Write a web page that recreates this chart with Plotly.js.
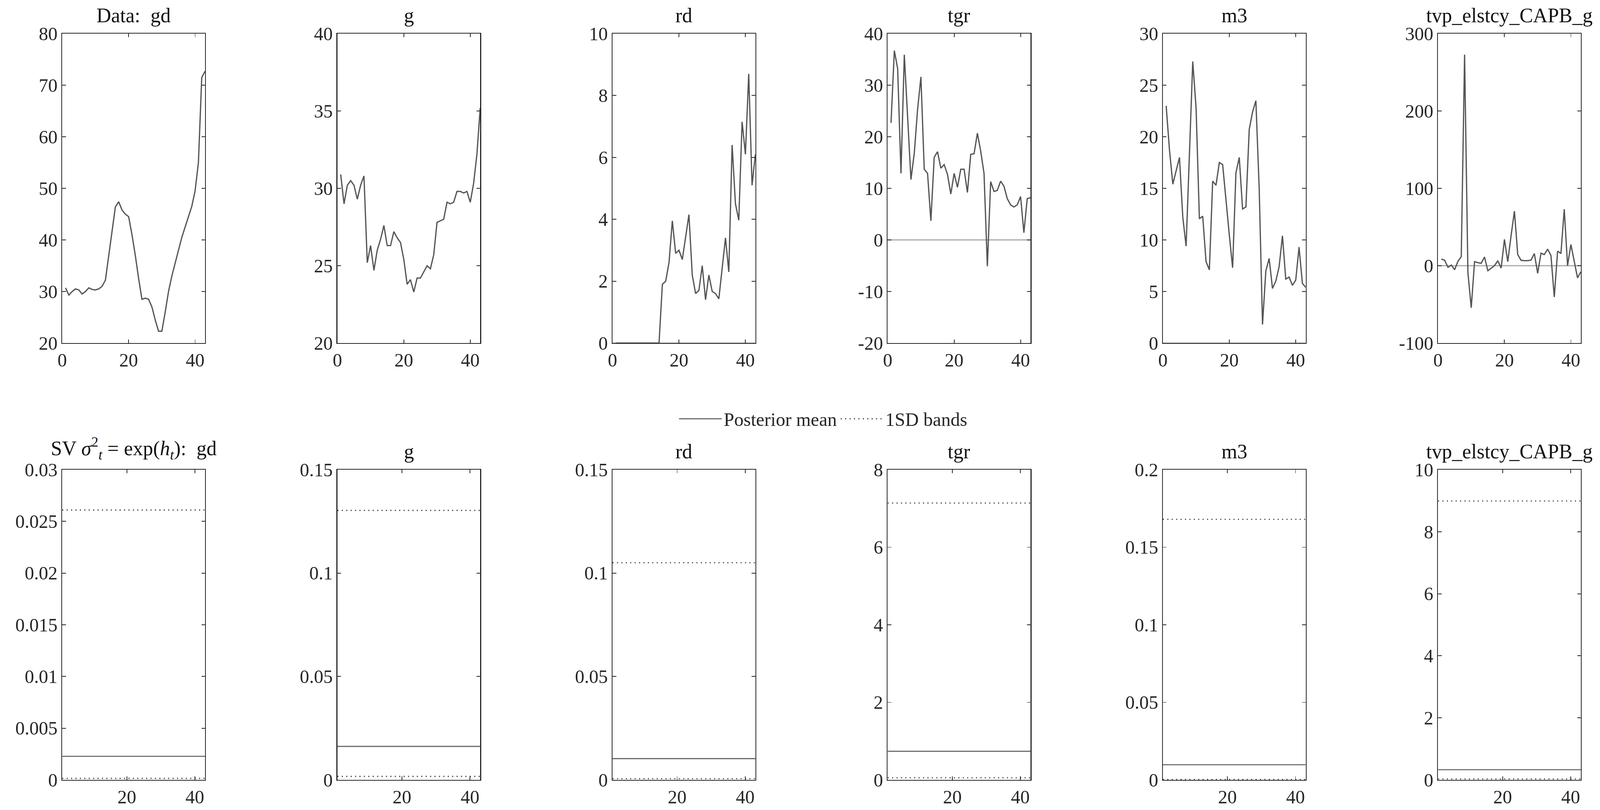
<!DOCTYPE html>
<html>
<head>
<meta charset="utf-8">
<script src="https://cdn.plot.ly/plotly-3.0.1.min.js"></script>
<style>
html,body{margin:0;padding:0;background:#ffffff;overflow:hidden;}
#chart{position:absolute;left:0;top:0;}
</style>
</head>
<body>
<div id="chart"></div>
<script>
// ---------- data ----------
const periods = [1,2,3,4,5,6,7,8,9,10,11,12,13,14,15,16,17,18,19,20,21,22,23,24,25,26,27,28,29,30,31,32,33,34,35,36,37,38,39,40,41,42,43];

const gd  = [30.7,29.3,30.0,30.5,30.3,29.5,30.0,30.7,30.4,30.3,30.5,31.0,32.2,37.0,42.0,46.4,47.4,45.8,45.0,44.5,41.0,37.0,32.5,28.5,28.7,28.5,27.0,24.5,22.3,22.3,26.0,30.0,33.0,35.5,38.0,40.5,42.5,44.5,46.5,49.5,55.0,71.5,72.7];
const g   = [30.9,29.0,30.2,30.5,30.2,29.3,30.2,30.8,25.2,26.3,24.7,26.0,26.7,27.6,26.3,26.3,27.2,26.8,26.5,25.4,23.8,24.1,23.3,24.2,24.2,24.6,25.0,24.8,25.7,27.8,27.9,28.0,29.1,29.0,29.1,29.8,29.8,29.7,29.8,29.1,30.3,32.2,35.2];
const rd  = [0,0,0,0,0,0,0,0,0,0,0,0,0,0,1.9,2.0,2.6,3.95,2.9,3.0,2.7,3.4,4.15,2.2,1.6,1.7,2.5,1.4,2.2,1.67,1.6,1.43,2.44,3.4,2.3,6.4,4.5,3.97,7.15,6.1,8.7,5.1,6.1];
const tgr = [22.7,36.7,33.2,12.9,35.9,23.5,11.7,16.8,25.3,31.6,13.7,12.9,3.7,16.0,17.1,13.9,14.6,12.7,8.9,12.9,10.2,13.7,13.7,9.2,16.6,16.7,20.7,17.2,12.9,-5.1,11.3,9.4,9.6,11.4,10.4,8.0,6.8,6.4,6.8,8.4,1.4,8.0,8.2];
const m3  = [23.0,18.7,15.4,16.7,18.0,12.2,9.4,18.3,27.3,22.8,12.05,12.3,7.9,7.1,15.7,15.3,17.5,17.3,13.8,10.5,7.3,16.5,18.0,13.0,13.2,20.7,22.4,23.5,15.0,1.8,7.0,8.2,5.3,6.0,7.4,10.4,6.2,6.4,5.6,6.1,9.3,5.8,5.4];
const tvp = [8.6,7.0,-2.1,0.8,-5.2,5.7,11.7,272.8,-9.1,-54.3,5.2,3.9,3.1,11.2,-6.5,-3.4,0.0,6.5,-3.1,34.0,5.2,39.0,70.5,14.4,7.0,6.5,6.5,7.3,15.7,-9.9,16.2,14.4,21.4,13.1,-40.5,18.8,15.7,73.1,0.0,27.4,5.9,-15.7,-7.8];

// stochastic volatility (posterior mean and 1SD bands, flat over the sample)
const svMean  = [0.00228, 0.0162, 0.0103, 0.738, 0.0098, 0.33];
const svUpper = [0.0261, 0.1303, 0.105, 7.14, 0.168, 8.99];
const svLower = [0.00015, 0.0017, 0.0006, 0.055, 0.0003, 0.03];
const svSpan  = [1, 43];
const refLevel = 0;

// titles and ticks
const topTitles = ['Data:&nbsp; gd','g','rd','tgr','m3','tvp_elstcy_CAPB_g'];
const bottomTitles = ['SV <i>σ</i><sup>2</sup><sub><i>t</i></sub> = exp(<i>h</i><sub><i>t</i></sub>):&nbsp; gd','g','rd','tgr','m3','tvp_elstcy_CAPB_g'];

const topXRange = [0, 43];
const bottomXRange = [1, 43];
const topXTicks = [0, 20, 40];
const bottomXTicks = [20, 40];

const topYRanges = [[20,80],[20,40],[0,10],[-20,40],[0,30],[-100,300]];
const topYTicks = [
  [20,30,40,50,60,70,80],
  [20,25,30,35,40],
  [0,2,4,6,8,10],
  [-20,-10,0,10,20,30,40],
  [0,5,10,15,20,25,30],
  [-100,0,100,200,300]
];
const topYTickText = [
  ['20','30','40','50','60','70','80'],
  ['20','25','30','35','40'],
  ['0','2','4','6','8','10'],
  ['-20','-10','0','10','20','30','40'],
  ['0','5','10','15','20','25','30'],
  ['-100','0','100','200','300']
];
const bottomYRanges = [[0,0.03],[0,0.15],[0,0.15],[0,8],[0,0.2],[0,10]];
const bottomYTicks = [
  [0,0.005,0.01,0.015,0.02,0.025,0.03],
  [0,0.05,0.1,0.15],
  [0,0.05,0.1,0.15],
  [0,2,4,6,8],
  [0,0.05,0.1,0.15,0.2],
  [0,2,4,6,8,10]
];
const bottomYTickText = [
  ['0','0.005','0.01','0.015','0.02','0.025','0.03'],
  ['0','0.05','0.1','0.15'],
  ['0','0.05','0.1','0.15'],
  ['0','2','4','6','8'],
  ['0','0.05','0.1','0.15','0.2'],
  ['0','2','4','6','8','10']
];

const topSeries = [gd, g, rd, tgr, m3, tvp];

// ---------- layout (fits whatever viewport the page gets) ----------
const REF_W = 4346, REF_H = 2073;
const W = window.innerWidth || document.documentElement.clientWidth || REF_W;
const H = window.innerHeight || document.documentElement.clientHeight || REF_H;
const s = Math.min(W / REF_W, H / REF_H);
const px = v => v * s;

const chartDiv = document.getElementById('chart');
chartDiv.style.width = W + 'px';
chartDiv.style.height = H + 'px';

const FONT = 'Liberation Serif, Times New Roman, serif';
const INK = '#262626';
const colLeft0 = 169, colPitch = 747.4, colWidth = 388;
const topDomainY = [1 - 878 / REF_H, 1 - 86 / REF_H];
const bottomDomainY = [1 - 1996 / REF_H, 1 - 1202 / REF_H];

function xDomain(i) {
  const l = colLeft0 + colPitch * i;
  return [l / REF_W, (l + colWidth) / REF_W];
}
function axName(prefix, k) { return prefix + 'axis' + (k === 1 ? '' : k); }
function axRef(prefix, k) { return prefix + (k === 1 ? '' : k); }

const baseAxis = {
  showline: true, mirror: 'ticks', linecolor: INK, linewidth: px(2.5),
  ticks: 'inside', ticklen: px(10), tickwidth: px(2), tickcolor: INK,
  showgrid: false, zeroline: false, fixedrange: true, automargin: false,
  tickfont: {family: FONT, size: px(51), color: INK}
};

const layout = {
  width: W, height: H,
  margin: {l: 0, r: 0, t: 0, b: 0},
  paper_bgcolor: '#ffffff', plot_bgcolor: '#ffffff',
  font: {family: FONT, color: INK},
  showlegend: true,
  legend: {
    orientation: 'h', x: 0.5145, y: 1 - 1072 / REF_H, xanchor: 'center', yanchor: 'middle',
    font: {family: FONT, size: px(51), color: INK}, bgcolor: 'rgba(0,0,0,0)', borderwidth: 0,
    itemwidth: Math.max(30, px(116)), traceorder: 'normal', tracegroupgap: 0
  },
  annotations: []
};

const traces = [];

for (let i = 0; i < 6; i++) {
  const kt = i + 1, kb = i + 7;
  const dx = xDomain(i);

  layout[axName('x', kt)] = Object.assign({}, baseAxis, {
    domain: dx, anchor: axRef('y', kt), range: topXRange,
    tickmode: 'array', tickvals: topXTicks, ticktext: topXTicks.map(String), ticklabelstandoff: px(14)
  });
  layout[axName('y', kt)] = Object.assign({}, baseAxis, {
    domain: topDomainY, anchor: axRef('x', kt), range: topYRanges[i],
    tickmode: 'array', tickvals: topYTicks[i], ticktext: topYTickText[i], ticklabelstandoff: px(12)
  });
  layout[axName('x', kb)] = Object.assign({}, baseAxis, {
    domain: dx, anchor: axRef('y', kb), range: bottomXRange,
    tickmode: 'array', tickvals: bottomXTicks, ticktext: bottomXTicks.map(String), ticklabelstandoff: px(14)
  });
  layout[axName('y', kb)] = Object.assign({}, baseAxis, {
    domain: bottomDomainY, anchor: axRef('x', kb), range: bottomYRanges[i],
    tickmode: 'array', tickvals: bottomYTicks[i], ticktext: bottomYTickText[i], ticklabelstandoff: px(12)
  });

  // titles
  layout.annotations.push({
    text: topTitles[i], xref: 'paper', yref: 'paper',
    x: (dx[0] + dx[1]) / 2, y: topDomainY[1], xanchor: 'center', yanchor: 'bottom',
    yshift: px(17), showarrow: false, font: {family: FONT, size: px(55), color: '#111'}
  });
  layout.annotations.push({
    text: bottomTitles[i], xref: 'paper', yref: 'paper',
    x: (dx[0] + dx[1]) / 2, y: bottomDomainY[1], xanchor: 'center', yanchor: 'bottom',
    yshift: px(17), showarrow: false, font: {family: FONT, size: px(55), color: '#111'}
  });

  // top row: zero reference line and data
  traces.push({
    type: 'scatter', mode: 'lines', x: topXRange, y: [refLevel, refLevel],
    xaxis: axRef('x', kt), yaxis: axRef('y', kt), showlegend: false, hoverinfo: 'skip',
    line: {color: '#a8a8a8', width: px(3)}
  });
  traces.push({
    type: 'scatter', mode: 'lines', x: periods, y: topSeries[i],
    xaxis: axRef('x', kt), yaxis: axRef('y', kt), showlegend: false,
    line: {color: '#555555', width: px(3.4)}
  });

  // bottom row: SV posterior mean and 1SD bands
  const dash = px(3).toFixed(1) + 'px,' + px(9).toFixed(1) + 'px';
  traces.push({
    type: 'scatter', mode: 'lines', x: svSpan, y: [svMean[i], svMean[i]],
    xaxis: axRef('x', kb), yaxis: axRef('y', kb),
    name: 'Posterior mean', legendgroup: 'mean', showlegend: i === 0,
    line: {color: '#6a6a6a', width: px(3)}
  });
  traces.push({
    type: 'scatter', mode: 'lines', x: svSpan, y: [svUpper[i], svUpper[i]],
    xaxis: axRef('x', kb), yaxis: axRef('y', kb),
    name: '1SD bands', legendgroup: 'band', showlegend: i === 0,
    line: {color: '#3a3a3a', width: px(3), dash: dash}
  });
  traces.push({
    type: 'scatter', mode: 'lines', x: svSpan, y: [svLower[i], svLower[i]],
    xaxis: axRef('x', kb), yaxis: axRef('y', kb),
    name: '1SD bands', legendgroup: 'band', showlegend: false,
    line: {color: '#3a3a3a', width: px(3), dash: dash}
  });
}

Plotly.newPlot('chart', traces, layout, {staticPlot: true, displayModeBar: false});
</script>
</body>
</html>
